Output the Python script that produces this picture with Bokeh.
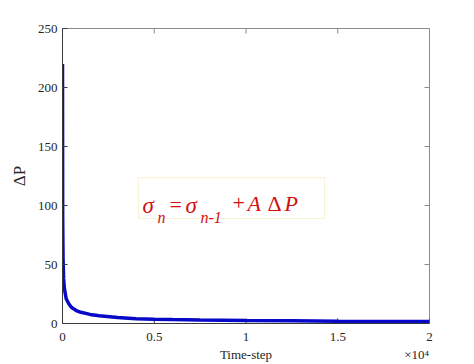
from bokeh.plotting import figure
from bokeh.models import Range1d, FixedTicker, Label, BoxAnnotation
from bokeh.embed import file_html
from bokeh.resources import INLINE

# ---- data ----
time_step = [0, 10, 30, 60, 100, 200, 350, 500, 750, 1000, 1500, 2000, 3000,
             4000, 5000, 6000, 7500, 10000, 12500, 15000, 17500, 20000]
delta_p = [220, 90, 55, 38, 30, 21, 16.5, 13.5, 11, 9.5, 7.7, 6.6, 5.0,
           4.1, 3.6, 3.3, 3.0, 2.6, 2.3, 2.0, 1.8, 1.6]
x_ticks = [0, 5000, 10000, 15000, 20000]
x_tick_labels = ["0", "0.5", "1", "1.5", "2"]
y_ticks = [0, 50, 100, 150, 200, 250]
x_title = "Time-step"
multiplier_text = "×10⁴"
multiplier_at = 19300   # label anchor (centre) for the x10^4 multiplier

SERIF = "Liberation Serif"
AXIS_COLOR = "#3a3a3a"
BOX_COLOR = "#8a8a8a"
TEXT_COLOR = "#262626"
RED = "#d01010"

p = figure(output_backend="svg", toolbar_location=None,
           frame_width=367, frame_height=295,
           x_range=Range1d(0, 20000), y_range=Range1d(0, 250),
           min_border_left=62, min_border_top=28, min_border_right=37,
           min_border_bottom=20)
p.background_fill_color = "white"
p.border_fill_color = "white"
p.outline_line_color = BOX_COLOR
p.grid.visible = False

for ax in (p.xaxis[0], p.yaxis[0]):
    ax.axis_line_color = AXIS_COLOR
    ax.major_tick_line_color = AXIS_COLOR
    ax.major_tick_in = 5
    ax.major_tick_out = 0
    ax.minor_tick_line_color = None
    ax.major_label_text_font = SERIF
    ax.major_label_text_font_size = "13px"
    ax.major_label_text_color = TEXT_COLOR
    ax.axis_label_text_font = SERIF
    ax.axis_label_text_font_style = "normal"
    ax.axis_label_text_color = TEXT_COLOR
    ax.axis_label_text_font_size = "16px"

# bottom axis: tick labels, with the axis title (centre tick) and the
# multiplier on a second line
xa = p.xaxis[0]
xa.ticker = FixedTicker(ticks=x_ticks + [multiplier_at])
overrides = dict(zip(x_ticks, x_tick_labels))
overrides[10000] = "1\n" + x_title
overrides[multiplier_at] = "\u00a0\n" + multiplier_text
xa.major_label_overrides = overrides
xa.major_tick_line_color = None       # tick marks drawn below from x_ticks
xa.major_label_standoff = 5

p.yaxis[0].ticker = FixedTicker(ticks=y_ticks)
p.yaxis[0].major_label_standoff = 5
p.yaxis[0].axis_label = "ΔP"
p.yaxis[0].axis_label_text_font_size = "17px"
p.yaxis[0].axis_label_standoff = 6

# inward tick marks on bottom, top and right edges, from the tick arrays
TICK_Y = 250 * 5 / 295
TICK_X = 20000 * 5 / 367
n = len(x_ticks)
p.segment(x0=x_ticks, x1=x_ticks, y0=[0] * n, y1=[TICK_Y] * n,
          line_color=AXIS_COLOR, line_width=1)
p.segment(x0=x_ticks, x1=x_ticks, y0=[250] * n, y1=[250 - TICK_Y] * n,
          line_color=BOX_COLOR, line_width=1)
p.segment(x0=[20000] * len(y_ticks), x1=[20000 - TICK_X] * len(y_ticks),
          y0=y_ticks, y1=y_ticks, line_color=BOX_COLOR, line_width=1)

p.line(time_step, delta_p, line_color="#0808c8", line_width=3.5)

# formula box
p.add_layout(BoxAnnotation(left=4142, right=14278, bottom=89, top=123.7,
                           fill_color="white", fill_alpha=1.0,
                           line_color="#eadb7a", line_width=1.2))

def lab(x, y, t, size, style="italic"):
    p.add_layout(Label(x=x, y=y, text=t, text_font=SERIF,
                       text_font_size=size, text_font_style=style,
                       text_color=RED, text_baseline="alphabetic",
                       text_align="left"))

lab(4360, 100.0, "σ", "23px")
lab(5177, 89.8, "n", "16px")
lab(5831, 101.0, "=", "22px", "normal")
lab(6703, 100.0, "σ", "23px")
lab(7520, 89.8, "n-1", "16px")
lab(9264, 101.7, "+", "22px", "normal")
lab(10082, 101.7, "A", "22px")
lab(11172, 101.7, "Δ", "22px", "normal")
lab(12098, 101.7, "P", "22px")

open("out.html", "w").write(file_html(p, INLINE))
